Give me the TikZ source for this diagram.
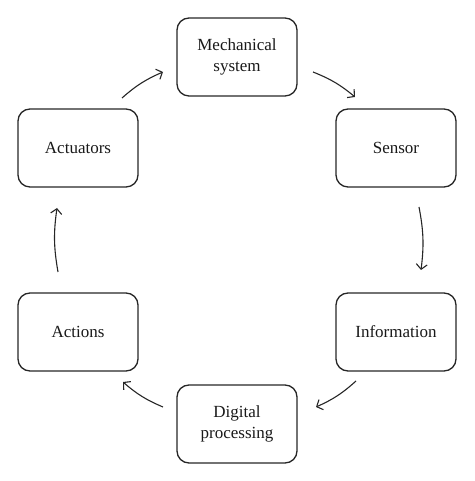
\documentclass[tikz,border=0pt]{standalone}
\usepackage{fontspec}
\setmainfont{Liberation Serif}
\usetikzlibrary{arrows.meta}
\begin{document}
\begin{tikzpicture}[x=1pt,y=1pt,
  blockbox/.style={draw=black!85, line width=1.3pt, rounded corners=12pt,
    minimum width=120pt, minimum height=78pt, align=center,
    font=\fontsize{17}{20.5}\selectfont, text=black!90, inner sep=2pt},
  cycarrow/.style={draw=black!85, line width=1.1pt,
    -{Straight Barb[length=5pt,width=11pt,line width=1.1pt]}, bend left=9}]
\useasboundingbox (0,0) rectangle (474,481);
\node[blockbox] (mech) at (237,424) {Mechanical\\system};
\node[blockbox] (sensor) at (396,333) {Sensor};
\node[blockbox] (info) at (396,149) {Information};
\node[blockbox] (digital) at (237,57) {Digital\\processing};
\node[blockbox] (actions) at (78,149) {Actions};
\node[blockbox] (actuators) at (78,333) {Actuators};
\coordinate (a1s) at (122,383); \coordinate (a1e) at (163,409);
\coordinate (a2s) at (313,409); \coordinate (a2e) at (355,384);
\coordinate (a3s) at (419,274); \coordinate (a3e) at (421,211);
\coordinate (a4s) at (356,100); \coordinate (a4e) at (316,74);
\coordinate (a5s) at (163,74);  \coordinate (a5e) at (123,99);
\coordinate (a6s) at (58,209);  \coordinate (a6e) at (57,273);
\draw[cycarrow] (a1s) to (a1e);
\draw[cycarrow] (a2s) to (a2e);
\draw[cycarrow] (a3s) to (a3e);
\draw[cycarrow] (a4s) to (a4e);
\draw[cycarrow] (a5s) to (a5e);
\draw[cycarrow] (a6s) to (a6e);
\end{tikzpicture}
\end{document}
